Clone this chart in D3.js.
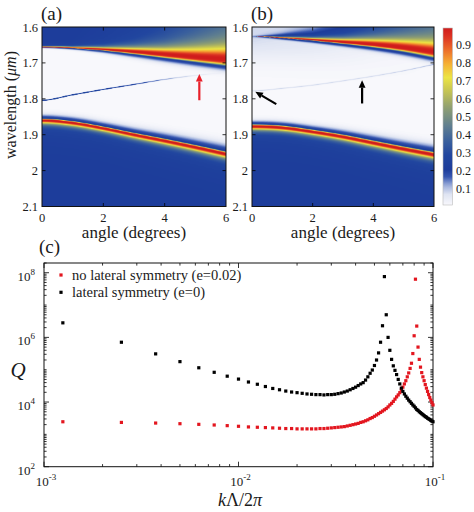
<!DOCTYPE html>
<html><head><meta charset="utf-8">
<script src="https://cdn.jsdelivr.net/npm/d3@7"></script>
<style>
body{margin:0;background:#fff}
svg{display:block}
text{font-family:"Liberation Serif","Times New Roman",serif;fill:#1a1a1a}
</style>
</head><body>
<svg id="fig" width="474" height="512" font-family="Liberation Serif, Times New Roman, serif"></svg>
<script>
// ================= DATA =================
// heat maps (a),(b): axes
const angleTicks = [0, 2, 4, 6];
const wavelengthTicks = [1.6, 1.7, 1.8, 1.9, 2, 2.1];
const colorbarTicks = [0.1, 0.2, 0.3, 0.4, 0.5, 0.6, 0.7, 0.8, 0.9];
const angleGrid = [0, 1, 2, 3, 4, 5, 6]; // degrees, where band parameters were read

// panel (a): resonance bands (wavelength in um)
const aUpperCenter     = [1.6556, 1.6575, 1.662, 1.668, 1.675, 1.682, 1.688];
const aUpperOuterWidth = [0.0012, 0.002, 0.005, 0.010, 0.016, 0.024, 0.032];
const aUpperInnerWidth = [0.0012, 0.002, 0.004, 0.008, 0.012, 0.016, 0.0205];
const aUpperInnerDecay = [0.002, 0.004, 0.007, 0.010, 0.012, 0.0135, 0.0147];
const aUpperEdgeLevel  = [0.2, 0.2, 0.2, 0.2, 0.2, 0.2, 0.2];
const aTopNearLevel    = [0.2, 0.2, 0.21, 0.23, 0.26, 0.30, 0.34];
const aTopFarLevel     = [0.2, 0.2, 0.21, 0.23, 0.26, 0.30, 0.34];
const aTopDecay        = [1, 1, 1, 1, 1, 1, 1];
const aGapHaze         = [0, 0, 0, 0, 0, 0, 0];
const aLowerCenter     = [1.861, 1.868, 1.883, 1.901, 1.918, 1.936, 1.955];
const aLowerOuterWidth = [0.008, 0.008, 0.008, 0.0085, 0.009, 0.0095, 0.010];
const aLowerInnerWidth = [0.0058, 0.006, 0.006, 0.0065, 0.007, 0.0075, 0.008];
const aLowerInnerDecay = [0.012, 0.013, 0.014, 0.016, 0.018, 0.020, 0.022];
const aLowerEdgeLevel  = [0.2, 0.2, 0.2, 0.2, 0.2, 0.2, 0.2];
const aBottomLevel     = [0.2, 0.2, 0.2, 0.2, 0.2, 0.2, 0.2];
const aModeCenter      = [1.804, 1.789, 1.774, 1.760, 1.746, 1.735, 1.727];
const aModeStrength    = [0.34, 0.32, 0.28, 0.22, 0.13, 0.05, 0.0];

// panel (b)
const bUpperCenter     = [1.626, 1.6295, 1.635, 1.641, 1.647, 1.6555, 1.667];
const bUpperOuterWidth = [0.0001, 0.0015, 0.004, 0.008, 0.013, 0.019, 0.026];
const bUpperInnerWidth = [0.0001, 0.0015, 0.003, 0.006, 0.010, 0.014, 0.019];
const bUpperInnerDecay = [0.003, 0.004, 0.006, 0.008, 0.010, 0.012, 0.013];
const bUpperEdgeLevel  = [0.05, 0.18, 0.2, 0.2, 0.2, 0.2, 0.2];
const bTopNearLevel    = [0.07, 0.2, 0.2, 0.22, 0.26, 0.30, 0.34];
const bTopFarLevel     = [0.07, 0.07, 0.08, 0.12, 0.20, 0.28, 0.34];
const bTopDecay        = [0.001, 0.012, 0.028, 0.05, 0.08, 0.10, 0.10];
const bGapHaze         = [0.07, 0.06, 0.05, 0.035, 0.02, 0.01, 0.0];
const bLowerCenter     = [1.878, 1.8815, 1.893, 1.907, 1.924, 1.941, 1.957];
const bLowerOuterWidth = [0.008, 0.008, 0.008, 0.0085, 0.009, 0.0095, 0.010];
const bLowerInnerWidth = [0.007, 0.007, 0.0072, 0.0075, 0.008, 0.0085, 0.009];
const bLowerInnerDecay = [0.011, 0.012, 0.013, 0.015, 0.017, 0.019, 0.021];
const bLowerEdgeLevel  = [0.2, 0.2, 0.2, 0.2, 0.2, 0.2, 0.2];
const bBottomLevel     = [0.2, 0.2, 0.2, 0.2, 0.2, 0.2, 0.2];
const bModeCenter      = [1.778, 1.771, 1.762, 1.750, 1.737, 1.722, 1.704];
const bModeStrength    = [0.07, 0.07, 0.07, 0.07, 0.07, 0.08, 0.10];

// arrows [angle, wavelength] tail -> head
const arrowsA = [{from: [5.13, 1.804], to: [5.13, 1.731], color: "#e8202a"}];
const arrowsB = [{from: [0.80, 1.8147], to: [0.11, 1.7806], color: "#000"},
                 {from: [3.63, 1.813], to: [3.63, 1.748], color: "#000"}];

// panel (c): Q versus k Lambda / 2 pi
const kValues = [0.00125, 0.0025, 0.00375, 0.005, 0.00625, 0.0075, 0.00875, 0.01,
  0.01125, 0.0125, 0.01375, 0.015, 0.01625, 0.0175, 0.01875, 0.02,
  0.02125, 0.0225, 0.02375, 0.025, 0.02625, 0.0275, 0.02875, 0.03,
  0.03125, 0.0325, 0.03375, 0.035, 0.03625, 0.0375, 0.03875, 0.04,
  0.04125, 0.0425, 0.04375, 0.045, 0.04625, 0.0475, 0.04875, 0.05,
  0.05125, 0.0525, 0.05375, 0.055, 0.05625, 0.0575, 0.05875, 0.06,
  0.06125, 0.0625, 0.06375, 0.065, 0.06625, 0.0675, 0.06875, 0.07,
  0.07125, 0.0725, 0.07375, 0.075, 0.07625, 0.0775, 0.07875, 0.08,
  0.08125, 0.0825, 0.08375, 0.085, 0.08625, 0.0875, 0.08875, 0.09,
  0.09125, 0.0925, 0.09375, 0.095, 0.09625, 0.0975, 0.09875, 0.1];
// log10(Q), lateral symmetry (e=0)
const log10QLateral = [6.45, 5.85, 5.49, 5.25, 5.06, 4.92, 4.80, 4.71,
  4.62, 4.55, 4.48, 4.42, 4.38, 4.34, 4.31, 4.29,
  4.27, 4.25, 4.24, 4.23, 4.23, 4.22, 4.23, 4.23,
  4.24, 4.26, 4.28, 4.31, 4.34, 4.38, 4.42, 4.46,
  4.51, 4.56, 4.60, 4.68, 4.78, 4.89, 4.99, 5.13,
  5.30, 5.52, 5.85, 6.36, 7.88, 6.70, 6.00, 5.60,
  5.32, 5.12, 4.98, 4.85, 4.70, 4.56, 4.43, 4.33,
  4.25, 4.18, 4.12, 4.06, 4.01, 3.96, 3.91, 3.87,
  3.82, 3.77, 3.74, 3.70, 3.67, 3.64, 3.61, 3.58,
  3.55, 3.53, 3.50, 3.48, 3.46, 3.43, 3.41, 3.39];
// log10(Q), no lateral symmetry (e=0.02)
const log10QNoLateral = [3.39, 3.37, 3.35, 3.33, 3.31, 3.29, 3.27, 3.25,
  3.23, 3.22, 3.21, 3.20, 3.19, 3.18, 3.18, 3.17,
  3.17, 3.17, 3.17, 3.17, 3.18, 3.18, 3.19, 3.20,
  3.21, 3.22, 3.23, 3.24, 3.26, 3.28, 3.30, 3.32,
  3.34, 3.37, 3.39, 3.42, 3.45, 3.49, 3.52, 3.56,
  3.60, 3.64, 3.68, 3.72, 3.76, 3.80, 3.85, 3.91,
  3.96, 4.02, 4.09, 4.16, 4.22, 4.29, 4.37, 4.46,
  4.56, 4.66, 4.78, 4.90, 5.04, 5.20, 5.50, 6.05,
  7.80, 6.35, 5.70, 5.32, 5.08, 4.91, 4.78, 4.66,
  4.54, 4.43, 4.33, 4.23, 4.14, 4.06, 3.98, 3.91];
const seriesNames = ["no lateral symmetry (e=0.02)", "lateral symmetry (e=0)"];
const seriesColors = ["#e3161f", "#000000"];
const qMajorExp = [2, 4, 6, 8];
const kMajorExp = [-3, -2, -1];

// ================= DRAW =================
const svg = d3.select("#fig");
svg.append("rect").attr("width", 474).attr("height", 512).attr("fill", "#fff");

const cmapStops  = [0, 0.06, 0.11, 0.16, 0.2, 0.28, 0.36, 0.45, 0.55, 0.65, 0.72, 0.8, 0.88, 0.95, 1];
const cmapColors = ["#f8f8fc", "#dfe4f2", "#9fb0dc", "#3656b0", "#1d3d9b", "#21469f", "#3a609d",
  "#61808f", "#8f9f72", "#c9c752", "#ece444", "#f5ae34", "#ec6a2a", "#dc3323", "#d01c1c"];
const cmap = d3.scaleLinear().domain(cmapStops).range(cmapColors).interpolate(d3.interpolateRgb).clamp(true);
const lut = d3.range(256).map(i => d3.rgb(cmap(i / 255)));

// smooth (Hermite, zero slope at normal incidence) curve through the read-off band centres
function smoothCurve(xs, ys) {
  const n = xs.length;
  const m = ys.map((y, i) => i === 0 ? 0 : i === n - 1 ? (ys[n - 1] - ys[n - 2]) / (xs[n - 1] - xs[n - 2])
    : (ys[i + 1] - ys[i - 1]) / (xs[i + 1] - xs[i - 1]));
  return t => {
    t = Math.max(xs[0], Math.min(xs[n - 1], t));
    let i = Math.min(n - 2, Math.max(0, d3.bisectRight(xs, t) - 1));
    const h = xs[i + 1] - xs[i], s = (t - xs[i]) / h, s2 = s * s, s3 = s2 * s;
    return (2 * s3 - 3 * s2 + 1) * ys[i] + (s3 - 2 * s2 + s) * h * m[i] + (-2 * s3 + 3 * s2) * ys[i + 1] + (s3 - s2) * h * m[i + 1];
  };
}
function panelModel(p) {
  const f = arr => d3.scaleLinear().domain(angleGrid).range(arr).clamp(true);
  const o = {};
  for (const k in p) o[k] = (k === "uc" || k === "lc" || k === "mc") ? smoothCurve(angleGrid, p[k]) : f(p[k]);
  return o;
}
const modelA = panelModel({uc: aUpperCenter, uo: aUpperOuterWidth, ui: aUpperInnerWidth, ut: aUpperInnerDecay,
  ue: aUpperEdgeLevel, tn: aTopNearLevel, tf: aTopFarLevel, td: aTopDecay, hz: aGapHaze,
  lc: aLowerCenter, lo: aLowerOuterWidth, li: aLowerInnerWidth, lt: aLowerInnerDecay, le: aLowerEdgeLevel,
  bb: aBottomLevel, mc: aModeCenter, ma: aModeStrength});
const modelB = panelModel({uc: bUpperCenter, uo: bUpperOuterWidth, ui: bUpperInnerWidth, ut: bUpperInnerDecay,
  ue: bUpperEdgeLevel, tn: bTopNearLevel, tf: bTopFarLevel, td: bTopDecay, hz: bGapHaze,
  lc: bLowerCenter, lo: bLowerOuterWidth, li: bLowerInnerWidth, lt: bLowerInnerDecay, le: bLowerEdgeLevel,
  bb: bBottomLevel, mc: bModeCenter, ma: bModeStrength});

function sq(x) { return x * x; }
function reflect(q, lam) {
  let U, L;
  let g = lam - q.uc;
  if (g < 0) {
    const d = -g, base = q.tf + (q.tn - q.tf) * Math.exp(-sq(d / q.td)), u = d / q.uo;
    U = base + (1 - base) / (1 + u * u);
  } else {
    const s = g / q.ui, pk = Math.exp(-s * s * s * s), e = Math.max(0, g - q.ui) / q.ut;
    U = Math.max(pk, q.ue * Math.exp(-e * e)) + q.hz * Math.exp(-sq(g / 0.06));
  }
  g = q.lc - lam;
  if (g < 0) {
    const u = -g / q.lo;
    L = q.bb + (1 - q.bb) / (1 + u * u);
  } else {
    const s = g / q.li, pk = Math.exp(-s * s * s * s), e = Math.max(0, g - q.li) / q.lt;
    L = Math.max(pk, q.le * Math.exp(-e * e));
  }
  const m = (lam - q.mc) / 0.0016;
  return U + L + q.ma * Math.exp(-m * m);
}

function heatPanel(model, xS, yS, label, arrows) {
  const g = svg.append("g");
  const [x0, x1] = xS.range(), [y0, y1] = yS.range();
  const K = 3, w = Math.round((x1 - x0) * K), h = Math.round((y1 - y0) * K);
  const cv = document.createElement("canvas"); cv.width = w; cv.height = h;
  const ctx = cv.getContext("2d"); const im = ctx.createImageData(w, h);
  const keys = Object.keys(model);
  for (let i = 0; i < w; i++) {
    const th = xS.invert(x0 + (i + 0.5) / K);
    const q = {}; keys.forEach(k => q[k] = model[k](th));
    for (let j = 0; j < h; j++) {
      const lam = yS.invert(y0 + (j + 0.5) / K);
      let v = reflect(q, lam); v = Math.max(0, Math.min(1, v));
      const c = lut[Math.round(v * 255)], o = (j * w + i) * 4;
      im.data[o] = c.r; im.data[o + 1] = c.g; im.data[o + 2] = c.b; im.data[o + 3] = 255;
    }
  }
  ctx.putImageData(im, 0, 0);
  g.append("image").attr("href", cv.toDataURL()).attr("x", x0).attr("y", y0)
    .attr("width", x1 - x0).attr("height", y1 - y0).attr("preserveAspectRatio", "none");
  const tl = 3.5;
  wavelengthTicks.filter(v => v > 1.6 && v < 2.1).forEach(v => {
    g.append("line").attr("x1", x0).attr("x2", x0 + tl).attr("y1", yS(v)).attr("y2", yS(v)).attr("stroke", "#000").attr("stroke-width", 0.8);
    g.append("line").attr("x1", x1).attr("x2", x1 - tl).attr("y1", yS(v)).attr("y2", yS(v)).attr("stroke", "#000").attr("stroke-width", 0.8);
  });
  angleTicks.filter(v => v > 0 && v < 6).forEach(v => {
    g.append("line").attr("x1", xS(v)).attr("x2", xS(v)).attr("y1", y1).attr("y2", y1 - tl).attr("stroke", "#000").attr("stroke-width", 0.8);
    g.append("line").attr("x1", xS(v)).attr("x2", xS(v)).attr("y1", y0).attr("y2", y0 + tl).attr("stroke", "#000").attr("stroke-width", 0.8);
  });
  g.append("rect").attr("x", x0).attr("y", y0).attr("width", x1 - x0).attr("height", y1 - y0)
    .attr("fill", "none").attr("stroke", "#111").attr("stroke-width", 1);
  wavelengthTicks.forEach(v => {
    g.append("text").attr("x", x0 - 4).attr("y", yS(v) + 4.5).attr("text-anchor", "end")
      .attr("font-size", 12.5).text(String(v));
  });
  angleTicks.forEach(v => {
    g.append("text").attr("x", xS(v)).attr("y", y1 + 15).attr("text-anchor", "middle")
      .attr("font-size", 12.5).text(String(v));
  });
  g.append("text").attr("x", (x0 + x1) / 2).attr("y", y1 + 31.5).attr("text-anchor", "middle")
    .attr("font-size", 17).text("angle (degrees)");
  g.append("text").attr("x", x0 - 1).attr("y", 20).attr("font-size", 19).text(label);
  arrows.forEach(a => {
    const p0 = [xS(a.from[0]), yS(a.from[1])], p1 = [xS(a.to[0]), yS(a.to[1])];
    const dx = p1[0] - p0[0], dy = p1[1] - p0[1], L = Math.hypot(dx, dy), ux = dx / L, uy = dy / L;
    const hl = 7.5, hw = 3.4;
    const bx = p1[0] - ux * hl, by = p1[1] - uy * hl;
    g.append("line").attr("x1", p0[0]).attr("y1", p0[1]).attr("x2", bx).attr("y2", by)
      .attr("stroke", a.color).attr("stroke-width", 2.2);
    g.append("path").attr("d", `M${p1[0]},${p1[1]}L${bx - uy * hw},${by + ux * hw}L${bx + uy * hw},${by - ux * hw}Z`)
      .attr("fill", a.color);
  });
}

const yW = d3.scaleLinear().domain([1.6, 2.1]).range([27, 206.5]);
const xA = d3.scaleLinear().domain([0, 6]).range([42, 226]);
const xB = d3.scaleLinear().domain([0, 6]).range([252, 434]);
heatPanel(modelA, xA, yW, "(a)", arrowsA);
heatPanel(modelB, xB, yW, "(b)", arrowsB);

svg.append("text").attr("transform", "translate(16,105) rotate(-90)").attr("text-anchor", "middle")
  .attr("font-size", 16).html('wavelength (<tspan font-style="italic">μm</tspan>)');

// colorbar
const cbY = d3.scaleLinear().domain([0, 1]).range([207, 27]);
const defs = svg.append("defs");
const grad = defs.append("linearGradient").attr("id", "cb").attr("x1", 0).attr("y1", 1).attr("x2", 0).attr("y2", 0);
d3.range(0, 1.0001, 0.02).forEach(t => grad.append("stop").attr("offset", t).attr("stop-color", cmap(t)));
svg.append("rect").attr("x", 443).attr("y", 28).attr("width", 9.5).attr("height", 177)
  .attr("fill", "url(#cb)").attr("stroke", "#bbb").attr("stroke-width", 0.6);
colorbarTicks.forEach(v => {
  svg.append("text").attr("x", 456).attr("y", cbY(v) + 4.3).attr("font-size", 12).text(d3.format(".1f")(v));
});

// ================= panel (c) =================
svg.append("text").attr("x", 39).attr("y", 253).attr("font-size", 19).text("(c)");
const xK = d3.scaleLog().domain([1e-3, 1e-1]).range([44, 433]);
const yQ = d3.scaleLog().domain([1e2, 2e8]).range([466.7, 263]);
const gc = svg.append("g");
const [cx0, cx1] = xK.range(), [cy0, cy1] = yQ.range();
for (let e = 2; e <= 8; e++) {
  for (let m = 1; m <= 9; m++) {
    const v = m * Math.pow(10, e);
    if (v > 2e8) continue;
    const major = (m === 1 && e % 2 === 0);
    const len = major ? 5 : 2.6;
    gc.append("line").attr("x1", cx0).attr("x2", cx0 + len).attr("y1", yQ(v)).attr("y2", yQ(v)).attr("stroke", "#000").attr("stroke-width", 0.8);
    gc.append("line").attr("x1", cx1).attr("x2", cx1 - len).attr("y1", yQ(v)).attr("y2", yQ(v)).attr("stroke", "#000").attr("stroke-width", 0.8);
  }
}
for (let e = -3; e <= -1; e++) {
  for (let m = 1; m <= 9; m++) {
    const v = m * Math.pow(10, e);
    if (v > 0.1 + 1e-12) continue;
    const len = m === 1 ? 5 : 2.6;
    gc.append("line").attr("x1", xK(v)).attr("x2", xK(v)).attr("y1", cy0).attr("y2", cy0 - len).attr("stroke", "#000").attr("stroke-width", 0.8);
    gc.append("line").attr("x1", xK(v)).attr("x2", xK(v)).attr("y1", cy1).attr("y2", cy1 + len).attr("stroke", "#000").attr("stroke-width", 0.8);
  }
}
gc.append("rect").attr("x", cx0).attr("y", cy1).attr("width", cx1 - cx0).attr("height", cy0 - cy1)
  .attr("fill", "none").attr("stroke", "#111").attr("stroke-width", 1);
qMajorExp.forEach(e => {
  const t = gc.append("text").attr("x", 35).attr("y", yQ(Math.pow(10, e)) + 8).attr("text-anchor", "end").attr("font-size", 13);
  t.append("tspan").text("10");
  t.append("tspan").attr("dy", -6).attr("font-size", 9).text(String(e));
});
kMajorExp.forEach(e => {
  const t = gc.append("text").attr("x", xK(Math.pow(10, e)) + 2).attr("y", 485.5).attr("text-anchor", "middle").attr("font-size", 13);
  t.append("tspan").text("10");
  t.append("tspan").attr("dy", -6).attr("font-size", 9).text(String(e));
});
svg.append("text").attr("x", 240).attr("y", 506).attr("text-anchor", "middle").attr("font-size", 18)
  .html('<tspan font-style="italic">k</tspan>Λ/2<tspan font-style="italic">π</tspan>');
svg.append("text").attr("x", 18).attr("y", 377).attr("text-anchor", "middle").attr("font-size", 21)
  .attr("font-style", "italic").text("Q");

const series = [log10QNoLateral, log10QLateral];
const ms = 3.2;
series.forEach((s, si) => {
  gc.append("g").selectAll("rect").data(kValues.map((k, i) => [k, Math.pow(10, s[i])])).join("rect")
    .attr("x", d => xK(d[0]) - ms / 2).attr("y", d => yQ(d[1]) - ms / 2)
    .attr("width", ms).attr("height", ms).attr("fill", seriesColors[si]);
});
seriesNames.forEach((n, i) => {
  const yy = 275 + i * 17.3;
  svg.append("rect").attr("x", 61 - ms / 2).attr("y", yy - ms / 2).attr("width", ms).attr("height", ms).attr("fill", seriesColors[i]);
  svg.append("text").attr("x", 72).attr("y", yy + 4.5).attr("font-size", 14.5).text(n);
});
</script>
</body></html>
